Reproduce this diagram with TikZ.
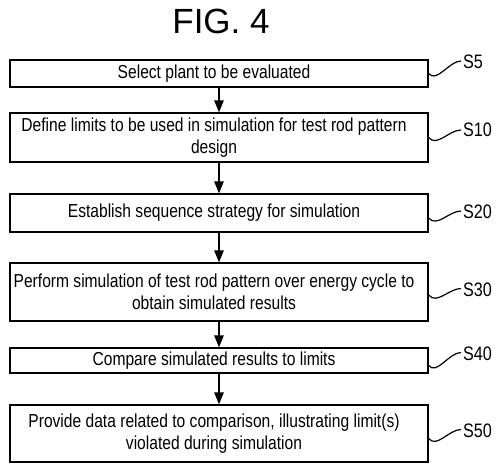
\documentclass[tikz,border=0pt]{standalone}
\usepackage{fontspec}
\setmainfont{Liberation Sans}
\newfontfamily\boxfont{Liberation Sans}[FakeStretch=0.83]
\usetikzlibrary{calc,arrows.meta}
\begin{document}
\begin{tikzpicture}[x=1pt,y=-1pt,
  stepbox/.style={draw,line width=1.4pt,minimum width=418pt,inner sep=0pt},
  txt/.style={inner sep=0pt,align=center,xshift=-5pt,font=\boxfont\fontsize{18.8}{22}\selectfont},
  flow/.style={line width=1.4pt,-{Triangle[length=12pt,width=9.5pt]}},
  squig/.style={line width=1.2pt},
  lab/.style={anchor=west,inner sep=0pt,font=\boxfont\fontsize{19.5}{22}\selectfont}]
\useasboundingbox (0,0) rectangle (501,471);
\node[inner sep=0pt,font=\fontsize{35}{40}\selectfont] (title) at (221,21) {FIG. 4};
\node[stepbox,minimum height=27pt,label={[txt]center:Select plant to be evaluated}] (s5) at (219,73.5) {};
\node[stepbox,minimum height=49pt,label={[txt]center:Define limits to be used in simulation for test rod pattern\\design}] (s10) at (219,137.5) {};
\node[stepbox,minimum height=38pt,label={[txt]center:Establish sequence strategy for simulation}] (s20) at (219,213) {};
\node[stepbox,minimum height=58pt,label={[txt]center:Perform simulation of test rod pattern over energy cycle to\\obtain simulated results}] (s30) at (219,292) {};
\node[stepbox,minimum height=25pt,label={[txt]center:Compare simulated results to limits}] (s40) at (219,360.5) {};
\node[stepbox,minimum height=57pt,label={[txt]center:Provide data related to comparison, illustrating limit(s)\\violated during simulation}] (s50) at (219,433.5) {};
\draw[flow] (s5) -- (s10);
\draw[flow] (s10) -- (s20);
\draw[flow] (s20) -- (s30);
\draw[flow] (s30) -- (s40);
\draw[flow] (s40) -- (s50);
\node[lab] (l5) at (463,62) {S5};
\node[lab] (l10) at (463,130) {S10};
\node[lab] (l20) at (463,212) {S20};
\node[lab] (l30) at (463,289.5) {S30};
\node[lab] (l40) at (463,353.5) {S40};
\node[lab] (l50) at (463,430.5) {S50};
\draw[squig] ($(s5.east)+(0,0)$) .. controls ++(8,10) and ++(-12,0) .. ($(l5.west)+(-2,-1)$);
\draw[squig] ($(s10.east)+(0,0)$) .. controls ++(8,10) and ++(-12,0) .. ($(l10.west)+(-2,0)$);
\draw[squig] ($(s20.east)+(0,5)$) .. controls ++(8,10) and ++(-12,0) .. ($(l20.west)+(-2,-1)$);
\draw[squig] ($(s30.east)+(0,3)$) .. controls ++(8,10) and ++(-12,0) .. ($(l30.west)+(-2,-1)$);
\draw[squig] ($(s40.east)+(0,5)$) .. controls ++(8,10) and ++(-12,0) .. ($(l40.west)+(-2,-1)$);
\draw[squig] ($(s50.east)+(0,5)$) .. controls ++(8,10) and ++(-12,0) .. ($(l50.west)+(-2,-1)$);
\end{tikzpicture}
\end{document}
